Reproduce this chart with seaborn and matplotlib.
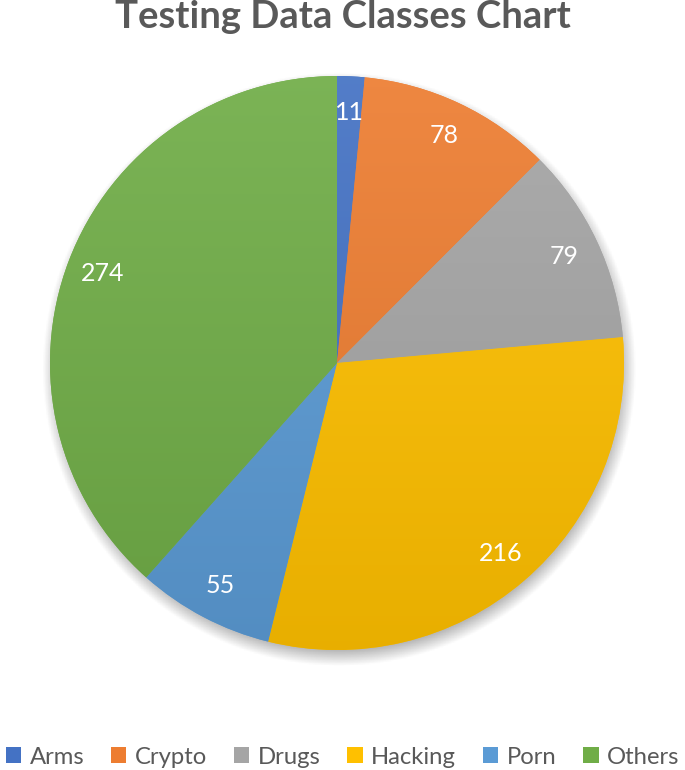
import numpy as np
import matplotlib
matplotlib.use("Agg")
import matplotlib.pyplot as plt
import matplotlib.colors as mcolors
from matplotlib.patches import Patch
import seaborn as sns

categories = ["Arms", "Crypto", "Drugs", "Hacking", "Porn", "Others"]
values = [11, 78, 79, 216, 55, 274]
colors = ["#4472C4", "#ED7D31", "#A5A5A5", "#FFC000", "#5B9BD5", "#70AD47"]

sns.set_theme(style="white")
plt.rcParams["font.family"] = ["Lato", "DejaVu Sans"]

W, H = 685, 770
fig = plt.figure(figsize=(W / 100, H / 100), dpi=100)

cx, cy, R = 337, 363, 287
lim = 1.1
side = R * lim
ax = fig.add_axes([(cx - side) / W, (H - cy - side) / H, 2 * side / W, 2 * side / H])

palette = sns.color_palette(colors)
total = sum(values)
wedges, texts, autotexts = ax.pie(
    values, colors=palette, startangle=90, counterclock=False, radius=1,
    autopct=lambda p: f"{round(p * total / 100)}", pctdistance=0.875,
    textprops=dict(color="white", fontsize=18),
    wedgeprops=dict(linewidth=0),
)

# vertical gradient fill per wedge
grad = np.linspace(1, 0, 256).reshape(-1, 1, 1)
for w, c in zip(wedges, palette):
    rgb = np.array(mcolors.to_rgb(c))
    top = rgb + (1 - rgb) * 0.08
    bot = rgb * 0.91
    img = bot + (top - bot) * grad
    im = ax.imshow(img, extent=(-1, 1, -1, 1), aspect="auto", zorder=w.get_zorder() + 0.1)
    im.set_clip_path(w)
for t in autotexts:
    t.set_zorder(5)

# soft shadow
n = 400
xs = np.linspace(-lim, lim, n)
X, Y = np.meshgrid(xs, xs[::-1])
d = np.hypot(X - 0.008, Y + 0.022)
a = np.clip((1.035 - d) / 0.07, 0, 1) * 0.55
sh = np.zeros((n, n, 4))
sh[..., :3] = 0.35
sh[..., 3] = a
ax.imshow(sh, extent=(-lim, lim, -lim, lim), aspect="auto", zorder=0)

ax.set_xlim(-lim, lim)
ax.set_ylim(-lim, lim)
ax.set_aspect("equal")
ax.axis("off")

fig.text(0.5, 1 - 17 / H, "Testing Data Classes Chart", ha="center", va="center",
         fontsize=27.5, fontweight="bold", color="#595959")

handles = [Patch(facecolor=c, edgecolor="none") for c in palette]
fig.legend(handles, categories, loc="center", bbox_to_anchor=(0.5, 13 / H), ncol=6,
           frameon=False, fontsize=17.2, labelcolor="#595959", handlelength=0.65,
           handleheight=0.65, handletextpad=0.35, columnspacing=1.12, borderaxespad=0,
           borderpad=0)

fig.savefig("out.png", dpi=100, facecolor="white")
